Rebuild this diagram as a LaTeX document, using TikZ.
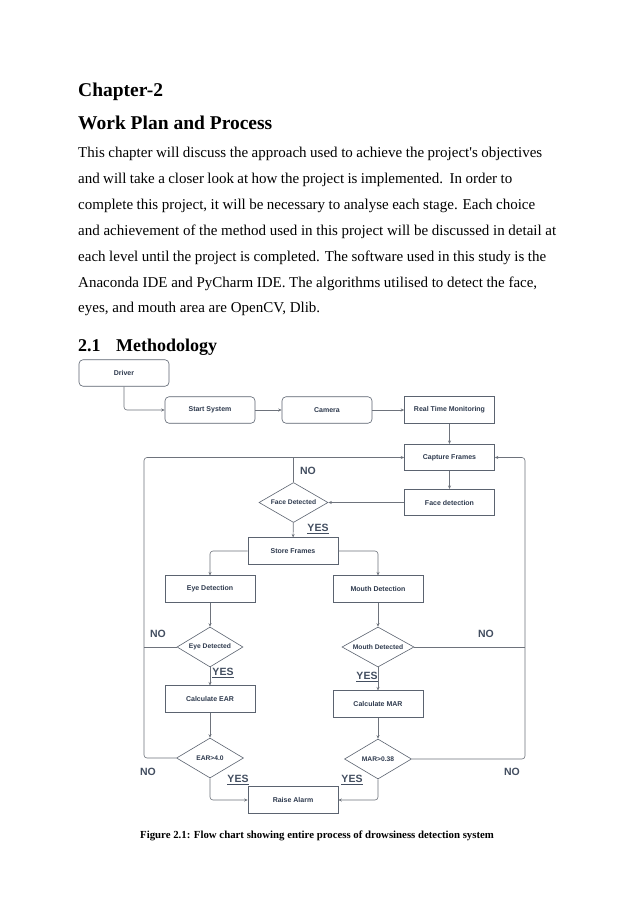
\documentclass[tikz,border=0pt]{standalone}
\usepackage{fontspec}
\setmainfont{Liberation Serif}
\setsansfont{Liberation Sans}
\usetikzlibrary{arrows.meta,shapes.geometric}

\definecolor{boxline}{HTML}{5B6370}
\definecolor{boxtext}{HTML}{2E3A4E}
\definecolor{flowline}{HTML}{6E737C}

\begin{document}
\begin{tikzpicture}
[x=1pt,y=-1pt,
  boxdecorate/.style={draw=boxline,semithick,minimum width=90pt,minimum height=26.5pt,inner sep=0pt,%
    font=\sffamily\bfseries\fontsize{7}{8}\selectfont,text=boxtext},
  rounddecorate/.style={boxdecorate,rounded corners=4pt},
  diamonddecorate/.style={shape=diamond,draw=boxline,semithick,inner sep=0pt,minimum height=40pt,%
    font=\sffamily\bfseries\fontsize{6.7}{7}\selectfont,text=boxtext},
  linedecorate/.style={draw=flowline,semithick,rounded corners=3pt},
  arrowdecorate/.style={linedecorate,-{Stealth[length=3.5pt,width=3pt]}},
  answerdecorate/.style={font=\sffamily\bfseries\fontsize{10.5}{12}\selectfont,text=boxtext!90},
  bodytext/.style={anchor=base west,inner sep=0pt,font=\fontsize{15}{18}\selectfont},
  headtext/.style={bodytext,font=\bfseries\fontsize{19.5}{22}\selectfont}]
\useasboundingbox[fill=white] (0,0) rectangle (638,902);
%% page text
\node (chapter) at (78,96) [headtext] {Chapter-2};
\node (title) at (78,129) [headtext] {Work Plan and Process};
\foreach \linename/\y/\w/\linetext in {
  lineone/157/464/{This chapter will discuss the approach used to achieve the project\textquotesingle s objectives},
  linetwo/183/434/{and will take a closer look at how the project is implemented.\ \ In order to},
  linethree/209/457/{complete this project, it will be necessary to analyse each stage. Each choice},
  linefour/235/478/{and achievement of the method used in this project will be discussed in detail at},
  linefive/261/468/{each level until the project is completed. The software used in this study is the},
  linesix/287/459/{Anaconda IDE and PyCharm IDE. The algorithms utilised to detect the face,},
  lineseven/312/242/{eyes, and mouth area are OpenCV, Dlib.}} {
  \node (\linename) at (78,\y) [bodytext] {\makebox[\w pt][s]{\linetext}};
}
\node (secnum) at (78,351) [headtext,font=\bfseries\fontsize{18}{22}\selectfont] {2.1};
\node (section) at (116,351) [headtext,font=\bfseries\fontsize{18}{22}\selectfont] {Methodology};
%% boxes
\foreach \nodename/\x/\y/\shapestyle/\nodetext in {
  driver/124/373/rounddecorate/Driver,
  start/210/410/rounddecorate/Start System,
  camera/327/410/rounddecorate/Camera,
  monitor/449.5/410/boxdecorate/Real Time Monitoring,
  capture/449.5/457.5/boxdecorate/Capture Frames,
  facedet/449.5/502.5/boxdecorate/Face detection,
  store/293/551/boxdecorate/Store Frames,
  eyedet/210/589/boxdecorate/Eye Detection,
  mouthdet/378/589/boxdecorate/Mouth Detection,
  ear/210/699/boxdecorate/Calculate EAR,
  mar/378/704/boxdecorate/Calculate MAR,
  alarm/293/800/boxdecorate/Raise Alarm} {
  \node (\nodename) at (\x,\y) [\shapestyle] {\nodetext};
}
%% decisions
\foreach \nodename/\x/\y/\w/\nodetext in {
  faceok/293.5/502.5/69/Face Detected,
  eyeok/210/647/66/Eye Detected,
  mouthok/378/647/72/Mouth Detected,
  earok/210/758/67/EAR>4.0,
  marok/378/759/67/MAR>0.38} {
  \node (\nodename) at (\x,\y) [diamonddecorate,minimum width=\w pt] {\makebox[0pt]{\nodetext}};
}
\coordinate (leftloop) at (144,457.5);
\coordinate (rightloop) at (525,457.5);
%% connectors
\path
\foreach \startnode/\endnode in {start/camera, camera/monitor, monitor/capture,
  capture/facedet, facedet/faceok, faceok/store, eyedet/eyeok, eyeok/ear,
  ear/earok, mouthdet/mouthok, mouthok/mar, mar/marok} {
  (\startnode) edge[arrowdecorate] (\endnode)
};
\draw[arrowdecorate] (driver.south) |- (start.west);
\draw[arrowdecorate] (store.west) -| (eyedet.north);
\draw[arrowdecorate] (store.east) -| (mouthdet.north);
\draw[arrowdecorate] (earok.south) |- (alarm.west);
\draw[arrowdecorate] (marok.south) |- (alarm.east);
\draw[arrowdecorate] (earok.west) -| (leftloop) -- (capture.west);
\draw[arrowdecorate] (marok.east) -| (rightloop) -- (capture.east);
\draw[linedecorate] (eyeok.west) -- (eyeok.west -| leftloop);
\draw[linedecorate] (mouthok.east) -- (mouthok.east -| rightloop);
\draw[linedecorate] (faceok.north) -- (faceok.north |- leftloop);
%% answers
\foreach \nodename/\x/\y/\answer in {faceno/308/471/NO, eyeno/158/634/NO,
  mouthno/486/634/NO, earno/148/772/NO, marno/512/772/NO} {
  \node (\nodename) at (\x,\y) [answerdecorate] {\answer};
}
\foreach \nodename/\x/\y in {faceyes/318/529, eyeyes/223/673, mouthyes/367/677,
  earyes/238/780, maryes/352/780} {
  \node (\nodename) at (\x,\y) [answerdecorate] {\underline{YES}};
}
%% caption
\node (caption) at (140,838) [bodytext,font=\bfseries\fontsize{10.8}{13}\selectfont] {Figure 2.1: Flow chart showing entire process of drowsiness detection system};
\end{tikzpicture}
\end{document}
